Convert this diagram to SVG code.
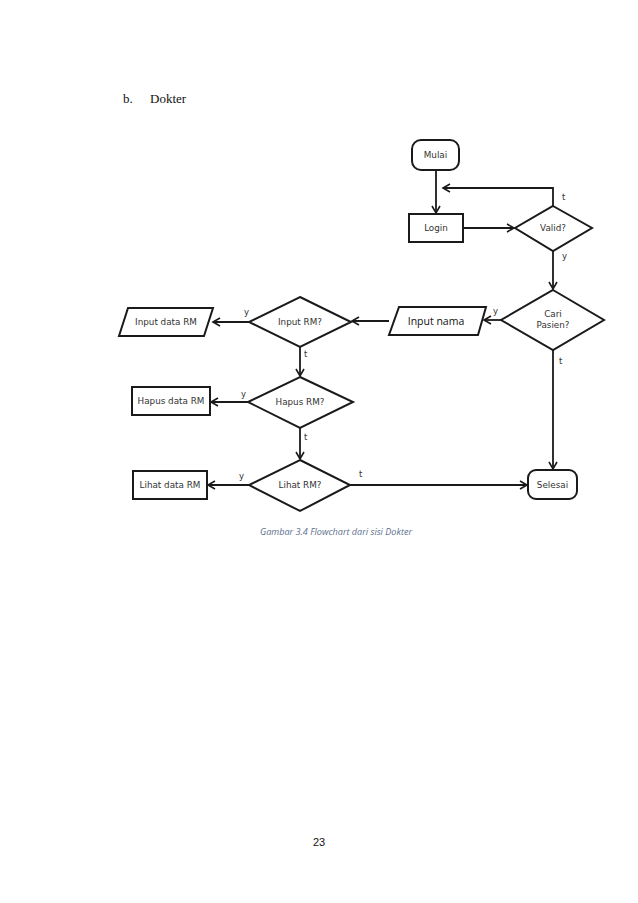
<svg xmlns="http://www.w3.org/2000/svg" width="638" height="903" viewBox="0 0 638 903">
<style>
.shape{fill:#fff;stroke:#1a1a1a;stroke-width:2}
.line{fill:none;stroke:#1a1a1a;stroke-width:1.8}
.t{font-family:"DejaVu Sans",Verdana,sans-serif;font-size:8.8px;fill:#333;text-anchor:middle}
.lbl{font-family:"DejaVu Sans",Verdana,sans-serif;font-size:8.5px;fill:#333}
</style>
<defs>
<marker id="arr" markerWidth="10" markerHeight="10" refX="8" refY="5" orient="auto" markerUnits="userSpaceOnUse">
<path d="M1,1 L8,5 L1,9" fill="none" stroke="#1a1a1a" stroke-width="1.6"/>
</marker>
</defs>
<rect width="638" height="903" fill="#fff"/>
<text x="123" y="103" font-family="Liberation Serif,serif" font-size="13" fill="#111">b.</text>
<text x="150" y="103" font-family="Liberation Serif,serif" font-size="13" fill="#111">Dokter</text>

<g id="connectors">
<line class="line" x1="436" y1="170" x2="436" y2="213" marker-end="url(#arr)"/>
<line class="line" x1="463" y1="228" x2="514" y2="228" marker-end="url(#arr)"/>
<polyline class="line" points="553,206 553,188 443,188" marker-end="url(#arr)"/>
<line class="line" x1="553" y1="251" x2="553" y2="289" marker-end="url(#arr)"/>
<line class="line" x1="501" y1="320" x2="484" y2="320" marker-end="url(#arr)"/>
<line class="line" x1="389" y1="321" x2="352" y2="321" marker-end="url(#arr)"/>
<line class="line" x1="249" y1="322" x2="213" y2="322" marker-end="url(#arr)"/>
<line class="line" x1="300" y1="347" x2="300" y2="376" marker-end="url(#arr)"/>
<line class="line" x1="248" y1="402" x2="211" y2="402" marker-end="url(#arr)"/>
<line class="line" x1="300" y1="428" x2="300" y2="459" marker-end="url(#arr)"/>
<line class="line" x1="249" y1="485" x2="208" y2="485" marker-end="url(#arr)"/>
<line class="line" x1="350" y1="485" x2="527" y2="485" marker-end="url(#arr)"/>
<line class="line" x1="553" y1="350" x2="553" y2="469" marker-end="url(#arr)"/>
<text class="lbl" x="562" y="200">t</text>
<text class="lbl" x="562" y="259">y</text>
<text class="lbl" x="493" y="314">y</text>
<text class="lbl" x="244" y="315">y</text>
<text class="lbl" x="304" y="357">t</text>
<text class="lbl" x="241" y="397">y</text>
<text class="lbl" x="304" y="440">t</text>
<text class="lbl" x="239" y="479">y</text>
<text class="lbl" x="359" y="477">t</text>
<text class="lbl" x="559" y="364">t</text>
</g>

<g id="mulai">
<rect class="shape" x="412" y="140" width="47" height="30" rx="9"/>
<text class="t" x="435.5" y="158">Mulai</text>
</g>
<g id="login">
<rect class="shape" x="409" y="214" width="54" height="28"/>
<text class="t" x="436" y="231">Login</text>
</g>
<g id="valid">
<polygon class="shape" points="553,206 592,228 553,251 515,228"/>
<text class="t" x="553" y="231">Valid?</text>
</g>
<g id="cari-pasien">
<polygon class="shape" points="553,290 604,320 553,350 501,320"/>
<text class="t" x="553" y="317">Cari</text>
<text class="t" x="553" y="328">Pasien?</text>
</g>
<g id="input-nama">
<polygon class="shape" points="399,307 486,307 478,335 389,335"/>
<text x="436" y="325" font-family="Open Sans,Liberation Sans,sans-serif" font-size="10.5" fill="#111" text-anchor="middle">Input nama</text>
</g>
<g id="input-rm">
<polygon class="shape" points="300,297 351,322 300,347 249,322"/>
<text class="t" x="300" y="325">Input RM?</text>
</g>
<g id="input-data-rm">
<polygon class="shape" points="128,308 213,308 204,336 119,336"/>
<text class="t" x="166" y="325">Input data RM</text>
</g>
<g id="hapus-rm">
<polygon class="shape" points="300,377 353,402 300,428 248,402"/>
<text class="t" x="300" y="405">Hapus RM?</text>
</g>
<g id="hapus-data-rm">
<rect class="shape" x="132" y="387" width="78" height="28"/>
<text class="t" x="171" y="404">Hapus data RM</text>
</g>
<g id="lihat-rm">
<polygon class="shape" points="300,460 350,485 300,511 249,485"/>
<text class="t" x="300" y="488">Lihat RM?</text>
</g>
<g id="lihat-data-rm">
<rect class="shape" x="133" y="471" width="74" height="28"/>
<text class="t" x="170" y="488">Lihat data RM</text>
</g>
<g id="selesai">
<rect class="shape" x="528" y="470" width="49" height="29" rx="8"/>
<text class="t" x="552.5" y="488">Selesai</text>
</g>

<text x="260" y="535" font-family="Open Sans,Liberation Sans,sans-serif" font-size="9" font-style="italic" fill="#5b6f8c" textLength="152" lengthAdjust="spacingAndGlyphs">Gambar 3.4 Flowchart dari sisi Dokter</text>
<text x="319" y="846" font-family="Liberation Sans,sans-serif" font-size="11" fill="#111" text-anchor="middle">23</text>
</svg>
